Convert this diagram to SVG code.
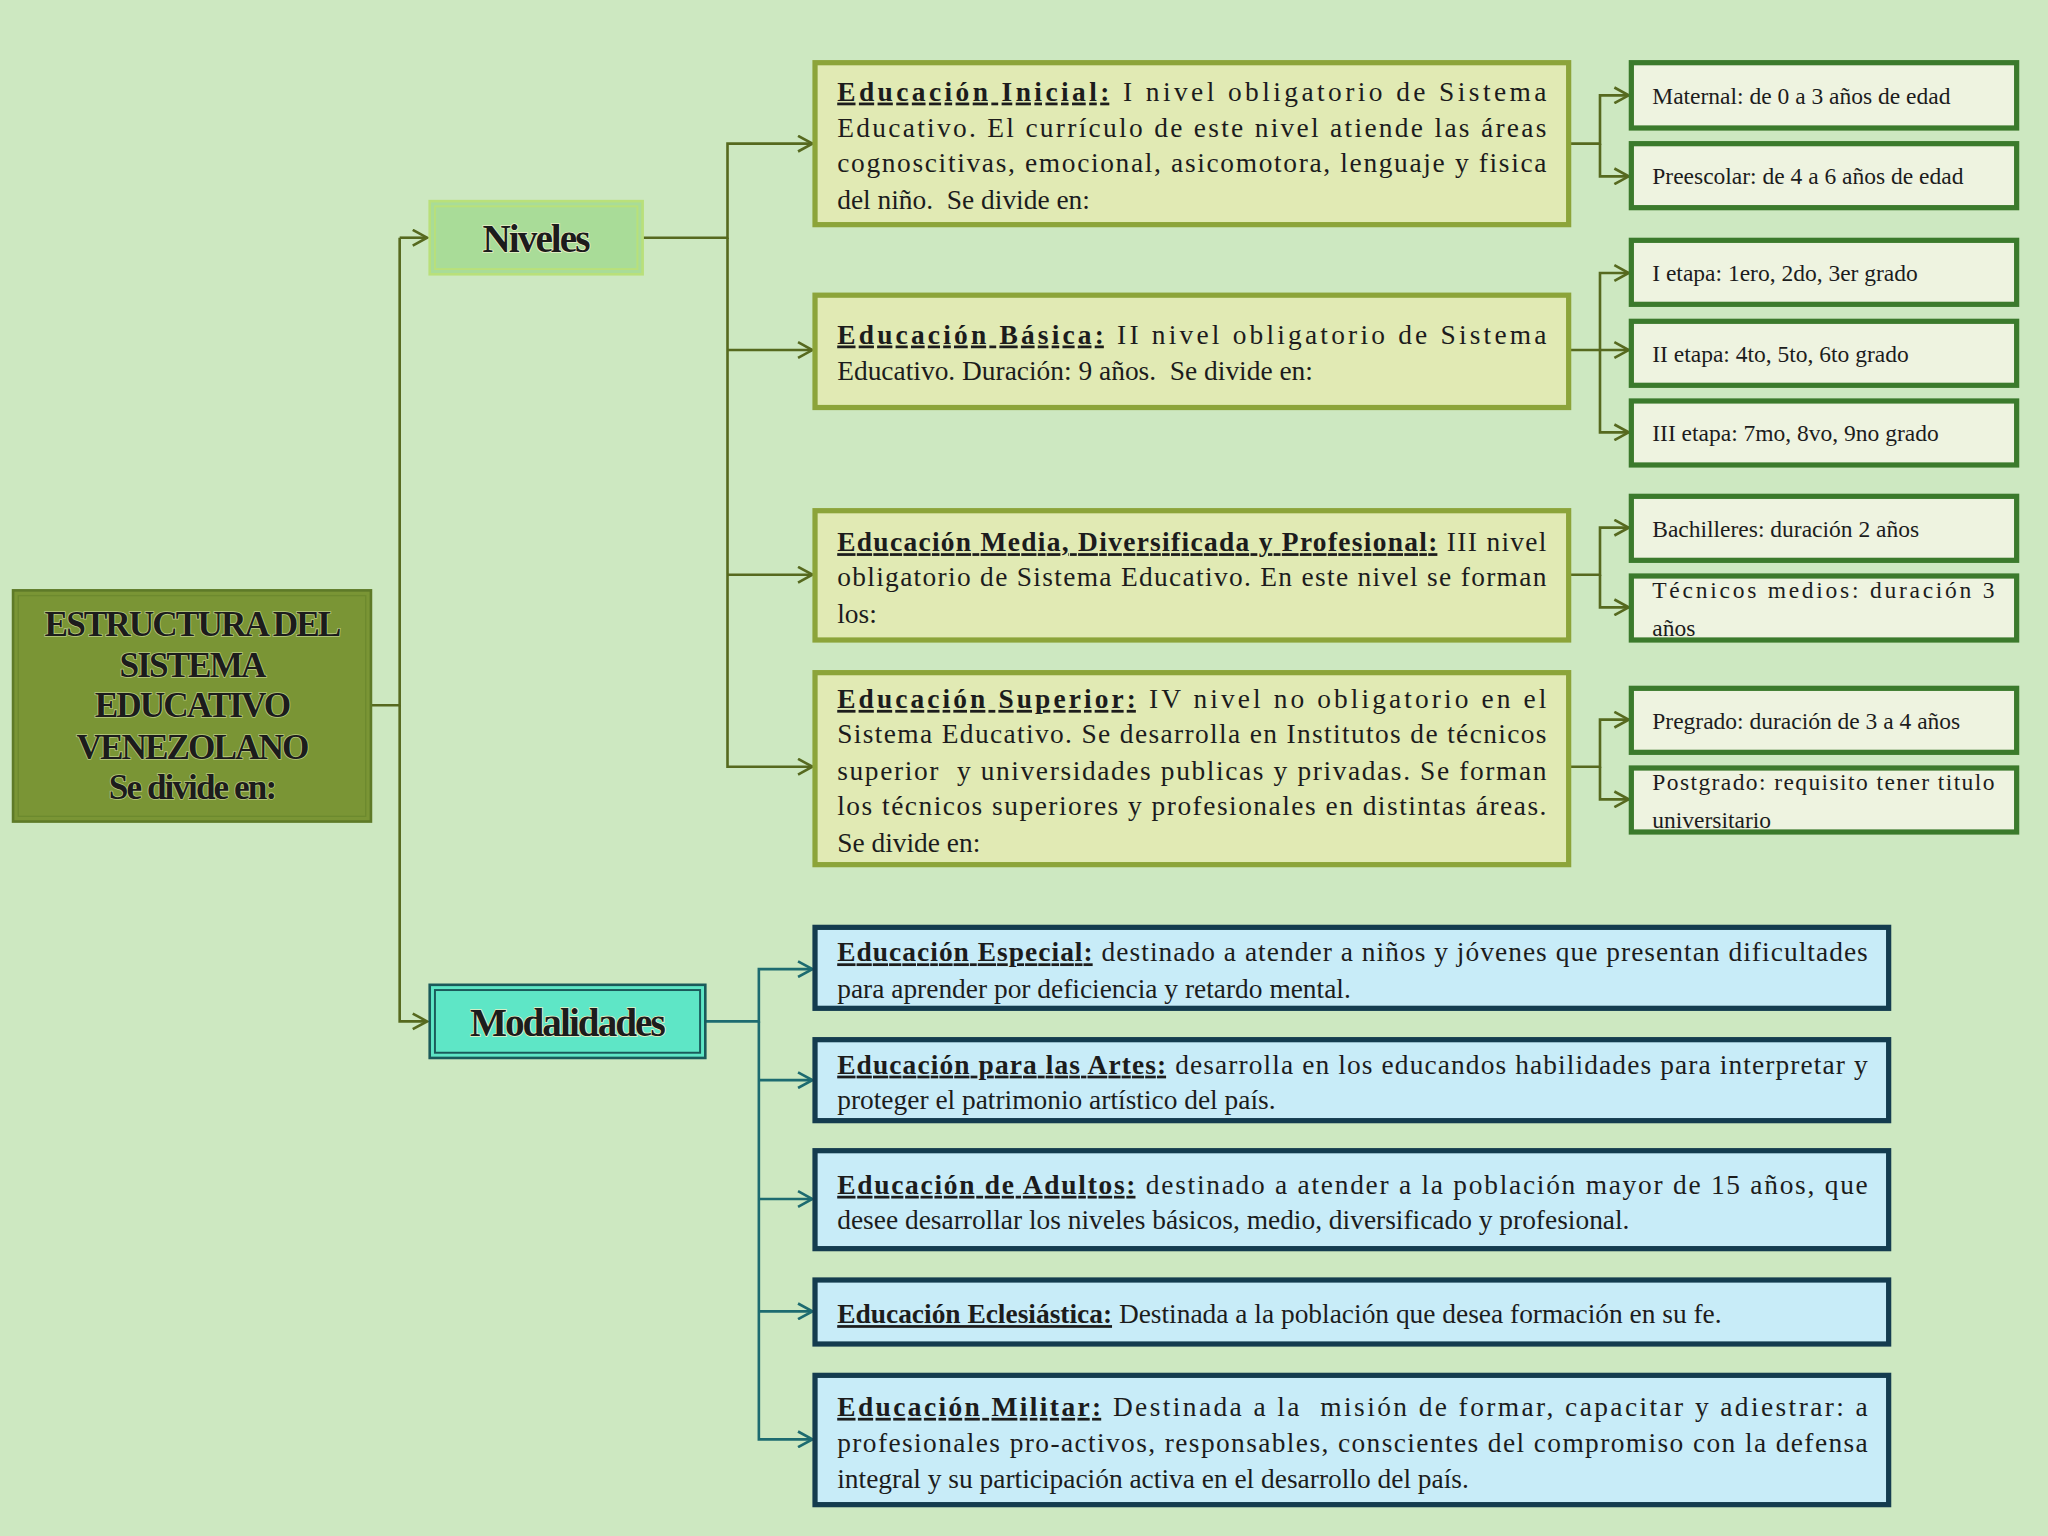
<svg xmlns="http://www.w3.org/2000/svg" width="2048" height="1536" viewBox="0 0 2048 1536">
<defs>
<marker id="ag" markerWidth="14" markerHeight="14" refX="12" refY="7" orient="auto" markerUnits="userSpaceOnUse"><path d="M1,1 L12,7 L1,13" fill="none" stroke="#56691f" stroke-width="2"/></marker>
<marker id="ab" markerWidth="14" markerHeight="14" refX="12" refY="7" orient="auto" markerUnits="userSpaceOnUse"><path d="M1,1 L12,7 L1,13" fill="none" stroke="#1d6b70" stroke-width="2"/></marker>
<style>
text{font-family:"Liberation Serif","Times New Roman",serif;fill:#1c1c1c}
.t{font-size:21px}
.s{font-size:18px}
.b{font-weight:bold;text-decoration:underline}
.big{font-weight:bold;font-size:30px;text-anchor:middle;letter-spacing:-1.5px;stroke:#e8f0c8;stroke-width:1.2;paint-order:stroke}
.root{font-weight:bold;font-size:27px;text-anchor:middle;letter-spacing:-1.5px;stroke:#b8c880;stroke-width:1.2;paint-order:stroke}
.gl{fill:none;stroke:#56691f;stroke-width:2}
.bl{fill:none;stroke:#1d6b70;stroke-width:2}
.gbox{fill:#e1eab4;stroke:#8ca43a;stroke-width:4}
.sbox{fill:#eef3e0;stroke:#3b7a2c;stroke-width:4}
.mbox{fill:#c8ecf8;stroke:#143c4f;stroke-width:4}
</style>
</defs>
<rect width="2048" height="1536" fill="#cde8c1"/>
<g transform="scale(1.30612)">
<g id="connectors">
<path class="gl" d="M284,540 H306 V182"/>
<path class="gl" d="M306,182 H327" marker-end="url(#ag)"/>
<path class="gl" d="M306,540 V782 H327" marker-end="url(#ag)"/>
<path class="gl" d="M492,182 H557 V110 H622" marker-end="url(#ag)"/>
<path class="gl" d="M557,182 V587 H622" marker-end="url(#ag)"/>
<path class="gl" d="M557,268 H622" marker-end="url(#ag)"/>
<path class="gl" d="M557,440 H622" marker-end="url(#ag)"/>
<path class="gl" d="M1201,110 H1225 V73 H1247" marker-end="url(#ag)"/>
<path class="gl" d="M1225,110 V135 H1247" marker-end="url(#ag)"/>
<path class="gl" d="M1201,268 H1247" marker-end="url(#ag)"/>
<path class="gl" d="M1225,268 V209 H1247" marker-end="url(#ag)"/>
<path class="gl" d="M1225,268 V331 H1247" marker-end="url(#ag)"/>
<path class="gl" d="M1201,440 H1225 V404 H1247" marker-end="url(#ag)"/>
<path class="gl" d="M1225,440 V465 H1247" marker-end="url(#ag)"/>
<path class="gl" d="M1201,587 H1225 V551 H1247" marker-end="url(#ag)"/>
<path class="gl" d="M1225,587 V612 H1247" marker-end="url(#ag)"/>
<path class="bl" d="M540,782 H581 V742 H622" marker-end="url(#ab)"/>
<path class="bl" d="M581,782 V1102 H622" marker-end="url(#ab)"/>
<path class="bl" d="M581,827 H622" marker-end="url(#ab)"/>
<path class="bl" d="M581,918 H622" marker-end="url(#ab)"/>
<path class="bl" d="M581,1004 H622" marker-end="url(#ab)"/>
</g>
<g id="root">
<rect x="10" y="452" width="274" height="177" fill="#7a9535" stroke="#5e7a28" stroke-width="2"/>
<rect x="14" y="456" width="266" height="169" fill="none" stroke="#6d8a2e" stroke-width="1"/>
<text class="root" x="147" y="487">ESTRUCTURA DEL</text>
<text class="root" x="147" y="518">SISTEMA</text>
<text class="root" x="147" y="549">EDUCATIVO</text>
<text class="root" x="147" y="581">VENEZOLANO</text>
<text class="root" x="147" y="612">Se divide en:</text>
</g>
<g id="niveles">
<rect x="329" y="154" width="163" height="56" fill="#a9dc98" stroke="#b9e07a" stroke-width="2"/>
<rect x="333" y="158" width="155" height="48" fill="none" stroke="#b9e07a" stroke-width="1.5"/>
<text class="big" x="410" y="193">Niveles</text>
</g>
<g id="modalidades">
<rect x="329" y="754" width="211" height="56" fill="#5ee6c6" stroke="#1a5a5a" stroke-width="2"/>
<rect x="333" y="758" width="203" height="48" fill="none" stroke="#1a5a5a" stroke-width="1.5"/>
<text class="big" x="434" y="793">Modalidades</text>
</g>
<g id="inicial">
<rect class="gbox" x="624" y="48" width="577" height="124"/>
<text class="t" x="641" y="77" textLength="543" lengthAdjust="spacing"><tspan class="b">Educación Inicial:</tspan> I nivel obligatorio de Sistema</text>
<text class="t" x="641" y="105" textLength="543" lengthAdjust="spacing">Educativo. El currículo de este nivel atiende las áreas</text>
<text class="t" x="641" y="132" textLength="543" lengthAdjust="spacing">cognoscitivas, emocional, asicomotora, lenguaje y fisica</text>
<text class="t" x="641" y="160" xml:space="preserve">del niño.  Se divide en:</text>
</g>
<g id="basica">
<rect class="gbox" x="624" y="226" width="577" height="86"/>
<text class="t" x="641" y="263" textLength="543" lengthAdjust="spacing"><tspan class="b">Educación Básica:</tspan> II nivel obligatorio de Sistema</text>
<text class="t" x="641" y="291" xml:space="preserve">Educativo. Duración: 9 años.  Se divide en:</text>
</g>
<g id="media">
<rect class="gbox" x="624" y="391" width="577" height="99"/>
<text class="t" x="641" y="422" textLength="543" lengthAdjust="spacing"><tspan class="b">Educación Media, Diversificada y Profesional:</tspan> III nivel</text>
<text class="t" x="641" y="449" textLength="543" lengthAdjust="spacing">obligatorio de Sistema Educativo. En este nivel se forman</text>
<text class="t" x="641" y="477">los:</text>
</g>
<g id="superior">
<rect class="gbox" x="624" y="515" width="577" height="147"/>
<text class="t" x="641" y="542" textLength="543" lengthAdjust="spacing"><tspan class="b">Educación Superior:</tspan> IV nivel no obligatorio en el</text>
<text class="t" x="641" y="569" textLength="543" lengthAdjust="spacing">Sistema Educativo. Se desarrolla en Institutos de técnicos</text>
<text class="t" x="641" y="597" textLength="543" lengthAdjust="spacing" xml:space="preserve">superior  y universidades publicas y privadas. Se forman</text>
<text class="t" x="641" y="624" textLength="543" lengthAdjust="spacing">los técnicos superiores y profesionales en distintas áreas.</text>
<text class="t" x="641" y="652">Se divide en:</text>
</g>
<g id="maternal"><rect class="sbox" x="1249" y="48" width="295" height="50"/><text class="s" x="1265" y="80">Maternal: de 0 a 3 años de edad</text></g>
<g id="preescolar"><rect class="sbox" x="1249" y="110" width="295" height="49"/><text class="s" x="1265" y="141">Preescolar: de 4 a 6 años de edad</text></g>
<g id="etapa1"><rect class="sbox" x="1249" y="184" width="295" height="49"/><text class="s" x="1265" y="215">I etapa: 1ero, 2do, 3er grado</text></g>
<g id="etapa2"><rect class="sbox" x="1249" y="246" width="295" height="49"/><text class="s" x="1265" y="277">II etapa: 4to, 5to, 6to grado</text></g>
<g id="etapa3"><rect class="sbox" x="1249" y="307" width="295" height="49"/><text class="s" x="1265" y="338">III etapa: 7mo, 8vo, 9no grado</text></g>
<g id="bachilleres"><rect class="sbox" x="1249" y="380" width="295" height="49"/><text class="s" x="1265" y="411">Bachilleres: duración 2 años</text></g>
<g id="tecnicos"><rect class="sbox" x="1249" y="441" width="295" height="49"/><text class="s" x="1265" y="458" textLength="262" lengthAdjust="spacing">Técnicos medios: duración 3</text><text class="s" x="1265" y="487">años</text></g>
<g id="pregrado"><rect class="sbox" x="1249" y="527" width="295" height="49"/><text class="s" x="1265" y="558">Pregrado: duración de 3 a 4 años</text></g>
<g id="postgrado"><rect class="sbox" x="1249" y="588" width="295" height="49"/><text class="s" x="1265" y="605" textLength="262" lengthAdjust="spacing">Postgrado: requisito tener titulo</text><text class="s" x="1265" y="634">universitario</text></g>
<g id="especial">
<rect class="mbox" x="624" y="710" width="822" height="62"/>
<text class="t" x="641" y="736" textLength="789" lengthAdjust="spacing"><tspan class="b">Educación Especial:</tspan> destinado a atender a niños y jóvenes que presentan dificultades</text>
<text class="t" x="641" y="764">para aprender por deficiencia y retardo mental.</text>
</g>
<g id="artes">
<rect class="mbox" x="624" y="796" width="822" height="62"/>
<text class="t" x="641" y="822" textLength="789" lengthAdjust="spacing"><tspan class="b">Educación para las Artes:</tspan> desarrolla en los educandos habilidades para interpretar y</text>
<text class="t" x="641" y="849">proteger el patrimonio artístico del país.</text>
</g>
<g id="adultos">
<rect class="mbox" x="624" y="881" width="822" height="75"/>
<text class="t" x="641" y="914" textLength="789" lengthAdjust="spacing"><tspan class="b">Educación de Adultos:</tspan> destinado a atender a la población mayor de 15 años, que</text>
<text class="t" x="641" y="941">desee desarrollar los niveles básicos, medio, diversificado y profesional.</text>
</g>
<g id="eclesiastica">
<rect class="mbox" x="624" y="980" width="822" height="49"/>
<text class="t" x="641" y="1013"><tspan class="b">Educación Eclesiástica:</tspan> Destinada a la población que desea formación en su fe.</text>
</g>
<g id="militar">
<rect class="mbox" x="624" y="1053" width="822" height="99"/>
<text class="t" x="641" y="1084" textLength="789" lengthAdjust="spacing" xml:space="preserve"><tspan class="b">Educación Militar:</tspan> Destinada a la  misión de formar, capacitar y adiestrar: a</text>
<text class="t" x="641" y="1112" textLength="789" lengthAdjust="spacing">profesionales pro-activos, responsables, conscientes del compromiso con la defensa</text>
<text class="t" x="641" y="1139">integral y su participación activa en el desarrollo del país.</text>
</g>
</g>
</svg>
